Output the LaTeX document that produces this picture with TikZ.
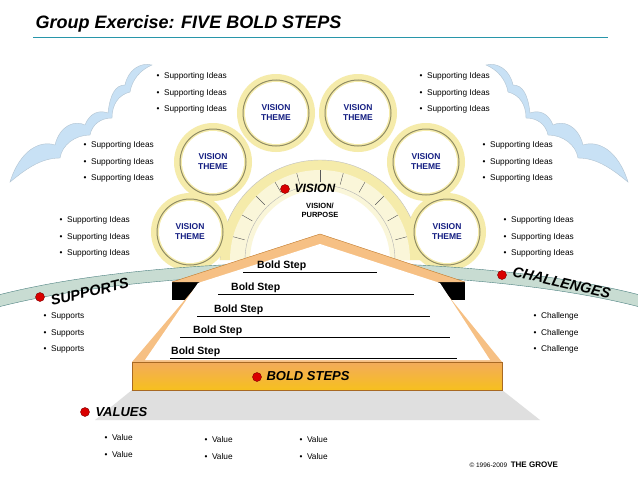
\documentclass[tikz,border=0pt]{standalone}
\usepackage{fontspec}
\setmainfont{Liberation Sans}
\usetikzlibrary{shadings}
\definecolor{teal1}{RGB}{40,150,170}
\definecolor{navy}{RGB}{20,30,130}
\definecolor{ring}{RGB}{245,235,170}
\definecolor{cloud}{RGB}{200,225,245}
\definecolor{orng}{RGB}{240,150,50}
\definecolor{band}{RGB}{200,220,210}
\tikzset{
 sup/.style={font=\fontsize{8.3}{9}\selectfont, anchor=west, align=left},
 theme/.style={font=\bfseries\fontsize{8.5}{10}\selectfont, text=navy, align=center},
 stepl/.style={font=\bfseries\fontsize{10.5}{12}\selectfont, anchor=south west, inner sep=1pt},
 big/.style={font=\bfseries\itshape\fontsize{13}{14}\selectfont, anchor=west},
 rotbig/.style={font=\bfseries\itshape\fontsize{14.5}{15}\selectfont, inner sep=0pt},
 dot/.style={circle, fill=red!85!black, draw=red!50!black, inner sep=0pt, minimum size=9pt},
 uline/.style={line width=0.8pt}
}
\newcommand{\slist}[1]{\textbullet\ \ #1\\[7.5pt]\textbullet\ \ #1\\[7.5pt]\textbullet\ \ #1}
\begin{document}
\begin{tikzpicture}[x=1pt,y=-1pt]
\useasboundingbox (0,0) rectangle (638,479);
\fill[white] (0,0) rectangle (638,479);
% title
\node[anchor=west, font=\bfseries\itshape\fontsize{18}{20}\selectfont] (title) at (32,24) {Group Exercise: FIVE BOLD STEPS};
\draw[teal1, line width=1pt] (33,37) -- (608,37);
% clouds
\fill[cloud, draw=cloud!70!gray] (10,182) .. controls (20,150) and (40,140) .. (55,145)
  .. controls (60,125) and (75,120) .. (85,125) .. controls (90,112) and (100,110) .. (108,113)
  .. controls (110,95) and (115,85) .. (125,85) .. controls (128,70) and (140,62) .. (152,65)
  .. controls (140,70) and (132,80) .. (130,92) .. controls (118,95) and (112,105) .. (112,118)
  .. controls (100,118) and (92,125) .. (90,135) .. controls (75,135) and (62,145) .. (60,158)
  .. controls (40,158) and (25,170) .. (10,182) -- cycle;
\fill[cloud, draw=cloud!70!gray] (628,182) .. controls (618,150) and (598,140) .. (583,145)
  .. controls (578,125) and (563,120) .. (553,125) .. controls (548,112) and (538,110) .. (530,113)
  .. controls (528,95) and (523,85) .. (513,85) .. controls (510,70) and (498,62) .. (486,65)
  .. controls (498,70) and (506,80) .. (508,92) .. controls (520,95) and (526,105) .. (526,118)
  .. controls (538,118) and (546,125) .. (548,135) .. controls (563,135) and (576,145) .. (578,158)
  .. controls (598,158) and (613,170) .. (628,182) -- cycle;
% vision arc
\fill[ring] (220,260) arc[start angle=180,end angle=360,radius=100] -- (395,260) arc[start angle=360,end angle=180,radius=75] -- cycle;
\fill[ring!45] (230,260) arc[start angle=180,end angle=360,radius=90] -- (390,260) arc[start angle=360,end angle=180,radius=70] -- cycle;
\draw[gray!60] (245,260) arc[start angle=180,end angle=360,radius=75];
\draw[gray!50] (220,260) arc[start angle=180,end angle=360,radius=100];
\foreach \a in {15,30,...,165} \draw[gray!70!black, thin] (320,260) ++(-\a:78) -- ++(-\a:12);
\node[theme, text=black, font=\bfseries\fontsize{7.5}{9}\selectfont] (vp) at (320,210) {VISION/\\PURPOSE};
\node[dot] (vd) at (285,189) {};
\node[big, font=\bfseries\itshape\fontsize{12}{14}\selectfont] (vl) at (291,188) {VISION};
% theme circles
\foreach \n/\x/\y in {a/276/113, b/358/113, c/213/162, d/426/162, e/190/232, f/447/232}{
  \fill[ring] (\x,\y) circle (39);
  \draw[gray!70!olive, line width=1pt] (\x,\y) circle (33);
  \fill[white] (\x,\y) circle (31);
  \node[theme] (\n) at (\x,\y) {VISION\\THEME};
}
% band
\fill[white] (0,312) .. controls (150,264) and (490,264) .. (638,312) -- (638,479) -- (0,479) -- cycle;
\fill[band] (-20,300) .. controls (150,250) and (490,250) .. (658,300) -- (658,312) .. controls (490,262) and (150,262) .. (-20,312) -- cycle;
\draw[gray!60!teal] (-20,300) .. controls (150,250) and (490,250) .. (658,300);
\draw[gray!60!teal] (-20,312) .. controls (150,262) and (490,262) .. (658,312);
% ground
\fill[gray!25] (132,390) -- (502,390) -- (540,420) -- (95,420) -- cycle;
% house
\fill[black] (172,282) rectangle (200,300);
\fill[black] (437,282) rectangle (465,300);
\fill[orng!60] (320,234) -- (465,282) -- (437,282) -- (502,362) -- (132,362) -- (200,282) -- (172,282) -- cycle;
\fill[white] (320,244) -- (440,283) -- (490,360) -- (145,360) -- (198,283) -- cycle;
\draw[orng!80!black] (320,234) -- (465,282) (320,234) -- (172,282);
\shade[top color=orng!80, bottom color=orng!60!yellow] (132,362) rectangle (502,390);
\draw[orng!70!black] (132,362) rectangle (502,390);
\node[dot] (bd) at (257,377) {};
\node[big] (bs) at (263,376) {BOLD STEPS};
% bold steps
\foreach \i/\tx/\ty/\la/\lb in {1/256/272/243/377, 2/230/294/218/414, 3/213/316/197/430, 4/192/337/180/450, 5/170/358/170/457}{
  \node[stepl] (s\i) at (\tx,\ty) {Bold Step};
  \draw[uline] (\la,\ty) -- (\lb,\ty);
}
% supports / challenges
\node[dot] (sd) at (40,297) {};
\node[rotbig, rotate=13, anchor=south west] (sl) at (52,306) {SUPPORTS};
\node[dot] (cd) at (502,275) {};
\node[rotbig, rotate=-13, anchor=north west] (cl) at (514,266) {CHALLENGES};
% lists
\node[sup] (l1) at (153,93) {\slist{Supporting Ideas}};
\node[sup] (l2) at (80,162) {\slist{Supporting Ideas}};
\node[sup] (l3) at (56,237) {\slist{Supporting Ideas}};
\node[sup] (r1) at (416,93) {\slist{Supporting Ideas}};
\node[sup] (r2) at (479,162) {\slist{Supporting Ideas}};
\node[sup] (r3) at (500,237) {\slist{Supporting Ideas}};
\node[sup] (sp) at (40,333) {\slist{Supports}};
\node[sup] (ch) at (530,333) {\slist{Challenge}};
% values
\node[dot] (vad) at (85,412) {};
\node[big] (val) at (92,412) {VALUES};
\node[sup] (v1) at (101,446) {\textbullet\ \ Value\\[7.5pt]\textbullet\ \ Value};
\node[sup] (v2) at (201,448) {\textbullet\ \ Value\\[7.5pt]\textbullet\ \ Value};
\node[sup] (v3) at (296,448) {\textbullet\ \ Value\\[7.5pt]\textbullet\ \ Value};
\node[anchor=west, font=\fontsize{6.5}{8}\selectfont] (cp) at (466,465) {© 1996-2009 \ \textbf{\fontsize{8}{9}\selectfont THE GROVE}};
\end{tikzpicture}
\end{document}
